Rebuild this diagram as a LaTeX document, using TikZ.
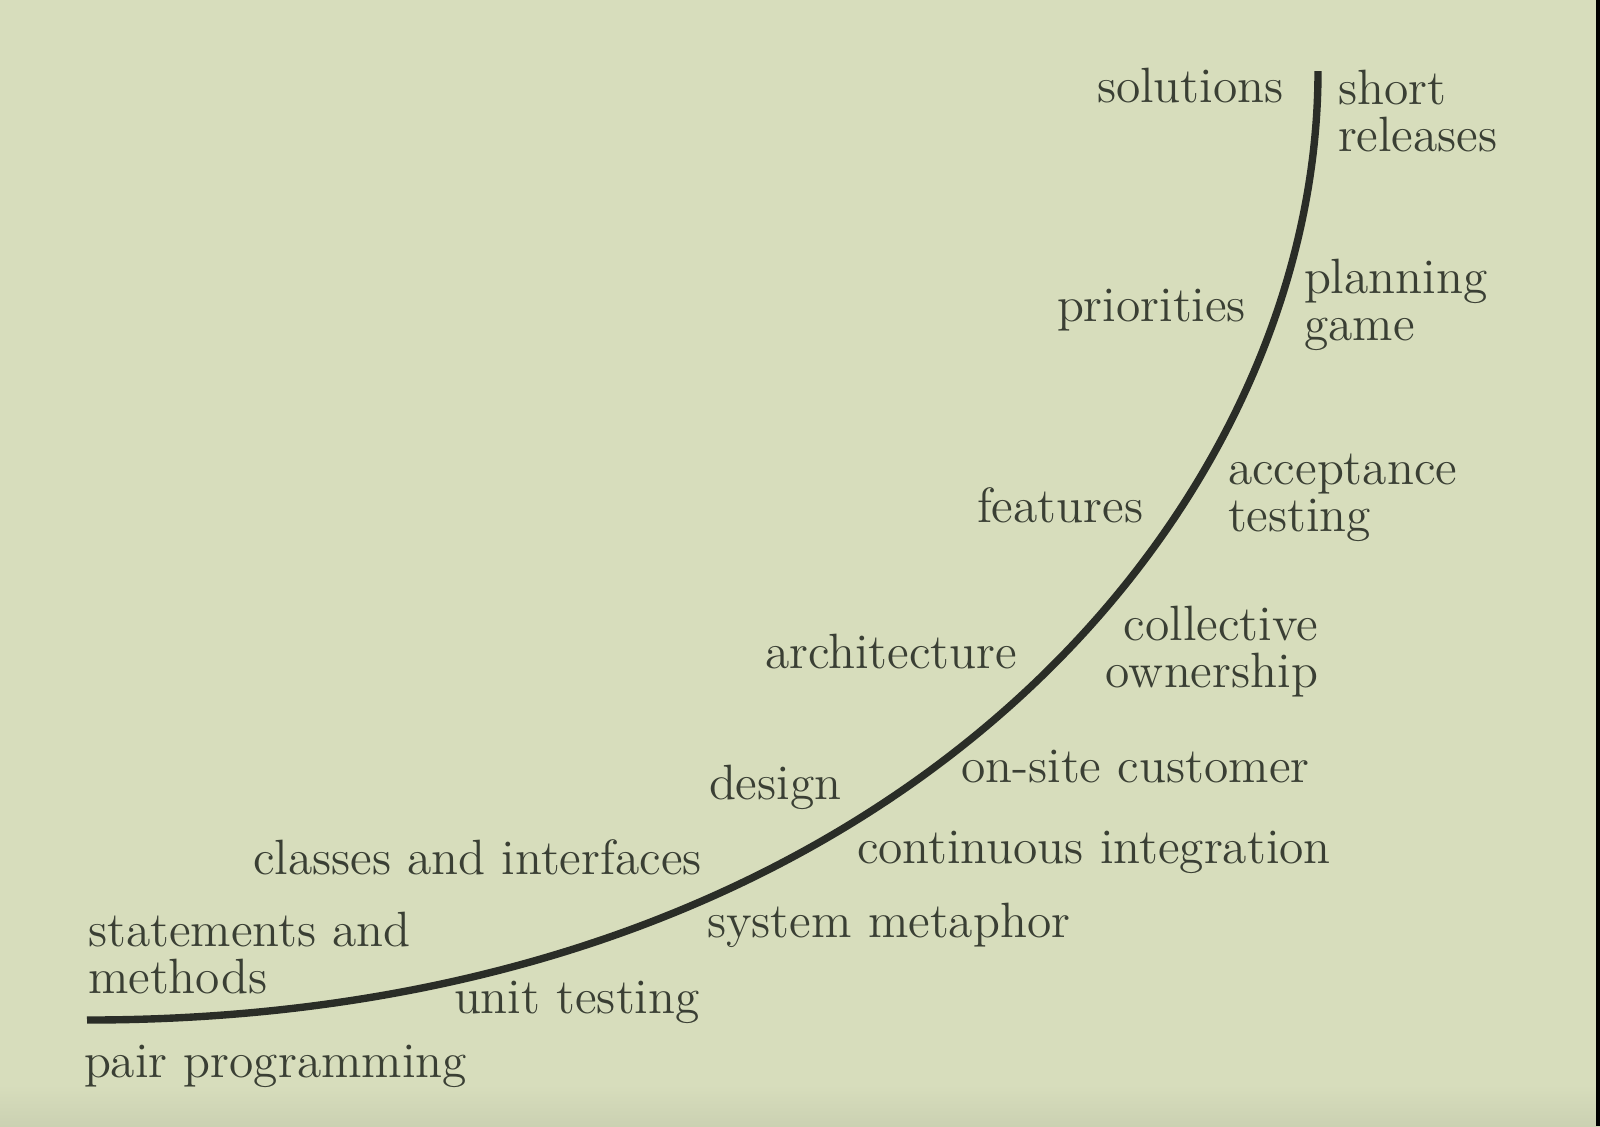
\documentclass[tikz,border=0pt]{standalone}
\usepackage{tikz}
\definecolor{bgcol}{RGB}{215,221,188}
\definecolor{bgdark}{RGB}{203,209,178}
\definecolor{txtcol}{RGB}{58,63,52}
\definecolor{curvecol}{RGB}{42,45,39}
\tikzset{
  lbl/.style={anchor=base west, inner sep=0pt, outer sep=0pt, text=txtcol,
    font=\fontsize{14.1}{13.1}\selectfont, align=left},
  lblr/.style={lbl, anchor=base east, align=right},
  curve/.style={draw=curvecol, line width=2.1pt, line cap=butt}
}
\begin{document}
\begin{tikzpicture}[x=0.01cm, y=-0.01cm]
  \useasboundingbox (0,0) rectangle (1600,1126);
  \fill[bgcol] (0,0) rectangle (1600,1126);
  \shade[top color=bgcol, bottom color=bgdark] (0,1085) rectangle (1600,1126);
  \fill[black] (1596,0) rectangle (1600,1126);

  \coordinate (start) at (87,1020);
  \coordinate (top) at (1318,71);
  \draw[curve] (start) .. controls (894,1020) and (1318,510) .. (top);

  % multi-line labels are anchored at the baseline of their last line
  \node[lbl] (solutions) at (1097,102) {solutions};
  \node[lbl] (short) at (1338,151) {short\\releases};
  \node[lbl] (priorities) at (1057,321) {priorities};
  \node[lbl] (planning) at (1304,340) {planning\\game};
  \node[lbl] (features) at (977,522) {features};
  \node[lbl] (acceptance) at (1228,531) {acceptance\\testing};
  \node[lbl] (architecture) at (765,668) {architecture};
  \node[lblr] (collective) at (1318,687) {collective\\ownership};
  \node[lbl] (design) at (709,799) {design};
  \node[lbl] (onsite) at (961,782) {on-site customer};
  \node[lbl] (classes) at (253,874) {classes and interfaces};
  \node[lbl] (continuous) at (857,863) {continuous integration};
  \node[lbl] (statements) at (88,993) {statements and\\methods};
  \node[lbl] (metaphor) at (707,937) {system metaphor};
  \node[lbl] (unit) at (454,1013) {unit testing};
  \node[lbl] (pair) at (84,1077) {pair programming};
\end{tikzpicture}
\end{document}
